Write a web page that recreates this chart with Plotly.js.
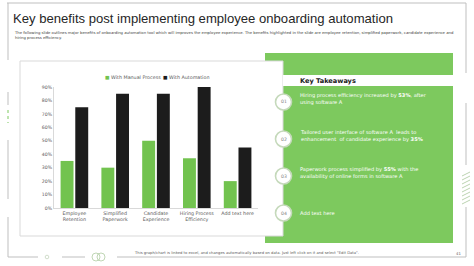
<!DOCTYPE html>
<html><head><meta charset="utf-8">
<script src="https://cdn.plot.ly/plotly-3.0.1.min.js"></script>
<style>html,body{margin:0;padding:0;background:#fff;}#chart{width:474px;height:266px;}</style>
</head><body><div id="chart"></div>
<script>
// ---- data ----
const categories = ["Employee<br>Retention", "Simplified<br>Paperwork", "Candidate<br>Experience", "Hiring Process<br>Efficiency", "Add text here"];
const manualValues = [0.35, 0.30, 0.50, 0.37, 0.20];
const automationValues = [0.75, 0.85, 0.85, 0.90, 0.45];
const seriesNames = ["With Manual Process", "With Automation"];
const yTickVals = [0, 0.1, 0.2, 0.3, 0.4, 0.5, 0.6, 0.7, 0.8, 0.9];
const yTickText = ["0%", "10%", "20%", "30%", "40%", "50%", "60%", "70%", "80%", "90%"];
const titleText = "Key benefits post implementing employee onboarding automation";
const subtitleText = "The following slide outlines major benefits of onboarding automation tool which will improves the employee experience. The benefits highlighted in the slide are employee retention, simplified paperwork, candidate experience and<br>hiring process efficiency.";
const takeawayTitle = "Key Takeaways";
const takeaways = [
  "Hiring process efficiency increased by <b>53%</b>, after<br>using software A",
  "Tailored user interface of software A  leads to<br>enhancement  of candidate experience by <b>35%</b>",
  "Paperwork process simplified by <b>55%</b> with the<br>availability of online forms in software A",
  "Add text here"
];
const takeawayNums = ["01", "02", "03", "04"];
const footerText = 'This graph/chart is linked to excel, and changes automatically based on data. Just left click on it and select "Edit Data".';
const pageNum = "41";

// ---- helpers (pixel -> paper) ----
const W = 474, H = 266;
const px = x => x / W;
const py = y => 1 - y / H;
const FONT = "DejaVu Sans, sans-serif";
const GREEN = "#7dc95e";
const LINE = "#bfbfbf";

const shapes = [];
function rect(x0, y0, x1, y1, fill, line, layer) {
  shapes.push({type: "rect", xref: "paper", yref: "paper", x0: px(x0), x1: px(x1), y0: py(y1), y1: py(y0),
    fillcolor: fill, line: line || {width: 0}, layer: layer || "below"});
}
function seg(x0, y0, x1, y1, color, width, dash) {
  shapes.push({type: "line", xref: "paper", yref: "paper", x0: px(x0), x1: px(x1), y0: py(y0), y1: py(y1),
    line: {color: color || LINE, width: width || 1, dash: dash || "solid"}, layer: "below"});
}
function circ(cx, cy, r, fill, line) {
  shapes.push({type: "circle", xref: "paper", yref: "paper", x0: px(cx - r), x1: px(cx + r), y0: py(cy + r), y1: py(cy - r),
    fillcolor: fill, line: line, layer: "above"});
}

// frame decorations
seg(7, 3, 466, 3);
seg(8, 3, 8, 60);
seg(8, 92, 8, 105);
seg(8, 110, 8, 123, "#7dc95e", 1, "dot");
seg(8, 140, 8, 199);
seg(8, 217, 8, 257);
seg(466, 3, 466, 73);
seg(466, 103, 466, 165);
seg(466, 207, 466, 257);
for (let i = 0; i < 8; i++) {
  const y = 172 + i * 4;
  seg(462, y + 4, 470, y, "#a9c79c", 0.8);
}
seg(8, 257, 38, 257);
seg(62, 257, 85, 257);
seg(117, 257, 466, 257);
circ(47, 257, 1.8, "rgba(0,0,0,0)", {color: "#c7d6bf", width: 0.8});
circ(96, 257, 4, "rgba(0,0,0,0)", {color: "#b9d1ad", width: 0.9});
circ(101, 257, 4, "rgba(0,0,0,0)", {color: "#b9d1ad", width: 0.9});

// panels
rect(265, 53, 453, 243, GREEN);
rect(20, 61, 283, 236, "#ffffff", {color: "#d9d9d9", width: 1});
rect(283, 75, 453, 86, "#ffffff");

const annotations = [];
function txt(x, y, text, size, color, anchor, family) {
  annotations.push({xref: "paper", yref: "paper", x: px(x), y: py(y), text: text, showarrow: false,
    xanchor: anchor || "left", yanchor: "middle", align: anchor === "right" ? "right" : "left",
    font: {family: family || FONT, size: size, color: color}});
}

txt(11, 19, titleText, 13.1, "#262626", "left", "Liberation Sans, Arial, sans-serif");
txt(12, 34.5, subtitleText, 3.8, "#404040");
txt(298, 81, "<b>" + takeawayTitle + "</b>", 6.6, "#1a1a1a");

const tY = [102, 139, 176, 213];
for (let i = 0; i < takeaways.length; i++) {
  circ(283.5, tY[i], 8, "#ffffff", {color: "#c5d9bb", width: 1.6});
  txt(283.5, tY[i], takeawayNums[i], 4.6, "#7f7f7f", "center");
  txt(298, tY[i] - (takeaways[i].indexOf("<br>") >= 0 ? 3.5 : 0), takeaways[i], 5.1, "#ffffff");
}

// legend (annotations)
txt(103, 77.5, '<span style="color:#72c34f">■</span> ' + seriesNames[0], 4.8, "#595959");
txt(161, 77.5, '<span style="color:#1c1c1c">■</span> ' + seriesNames[1], 4.8, "#595959");

txt(132, 253, footerText, 3.75, "#595959");
txt(458, 253, pageNum, 3.8, "#595959", "center");

const traces = [
  {type: "bar", name: seriesNames[0], x: categories, y: manualValues, marker: {color: "#72c34f"}, hoverinfo: "none"},
  {type: "bar", name: seriesNames[1], x: categories, y: automationValues, marker: {color: "#1c1c1c"}, hoverinfo: "none"}
];

const layout = {
  width: W, height: H,
  margin: {l: 0, r: 0, t: 0, b: 0},
  paper_bgcolor: "#ffffff",
  plot_bgcolor: "rgba(0,0,0,0)",
  showlegend: false,
  barmode: "group",
  bargap: 0.28,
  bargroupgap: 0.12,
  font: {family: FONT},
  xaxis: {domain: [px(54), px(258)], type: "category", showgrid: false, zeroline: false,
    showline: true, linecolor: "#d9d9d9", linewidth: 1, ticks: "", ticklen: 0,
    tickfont: {family: FONT, size: 4.8, color: "#595959"}, fixedrange: true},
  yaxis: {domain: [py(208), py(87)], range: [0, 0.9], tickvals: yTickVals, ticktext: yTickText,
    showgrid: false, zeroline: false, showline: true, linecolor: "#d9d9d9", linewidth: 1,
    ticks: "", ticklen: 0, tickfont: {family: FONT, size: 4.6, color: "#595959"}, fixedrange: true},
  shapes: shapes,
  annotations: annotations
};
Plotly.newPlot("chart", traces, layout, {displayModeBar: false, staticPlot: true});
</script></body></html>
